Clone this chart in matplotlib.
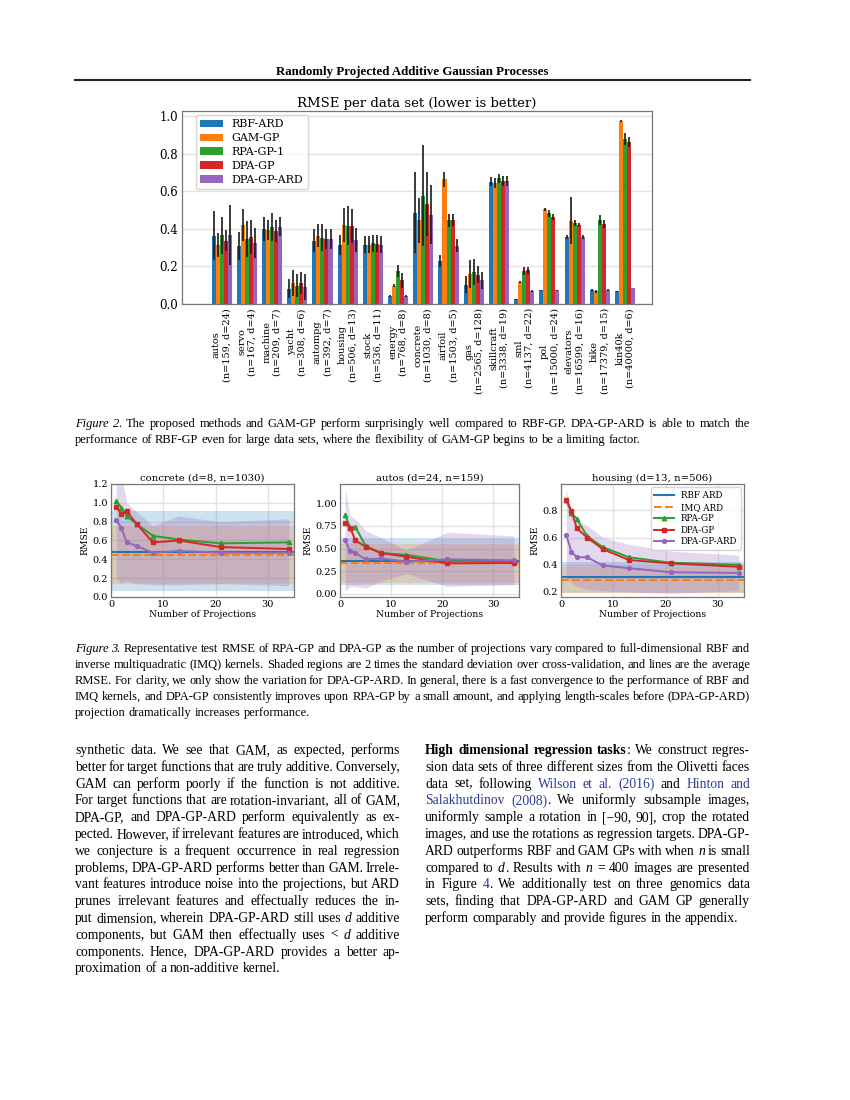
import matplotlib
matplotlib.use('Agg')
import matplotlib.pyplot as plt
import numpy as np

W, H, DPI = 850, 1100, 100

# ---------------- Figure 2 data ----------------
datasets = ['autos', 'servo', 'machine', 'yacht', 'autompg', 'housing', 'stock', 'energy',
            'concrete', 'airfoil', 'gas', 'skillcraft', 'sml', 'pol', 'elevators', 'bike', 'kin40k']
n_obs = [159, 167, 209, 308, 392, 506, 536, 768, 1030, 1503, 2565, 3338, 4137, 15000, 16599, 17379, 40000]
n_dim = [24, 4, 7, 6, 7, 13, 11, 8, 8, 5, 128, 19, 22, 24, 16, 15, 6]
methods = ['RBF-ARD', 'GAM-GP', 'RPA-GP-1', 'DPA-GP', 'DPA-GP-ARD']

rbf_mean = [0.362, 0.309, 0.399, 0.081, 0.337, 0.313, 0.315, 0.043, 0.485, 0.228, 0.102, 0.650, 0.025, 0.072, 0.358, 0.074, 0.067]
rbf_err = [0.13, 0.075, 0.065, 0.05, 0.06, 0.055, 0.045, 0.005, 0.215, 0.03, 0.045, 0.025, 0.003, 0.003, 0.01, 0.005, 0.003]
gam_mean = [0.313, 0.418, 0.394, 0.112, 0.364, 0.420, 0.316, 0.098, 0.446, 0.664, 0.158, 0.643, 0.116, 0.503, 0.443, 0.067, 0.972]
gam_err = [0.062, 0.085, 0.055, 0.068, 0.06, 0.09, 0.045, 0.01, 0.12, 0.04, 0.075, 0.025, 0.005, 0.008, 0.125, 0.008, 0.005]
rpa_mean = [0.366, 0.344, 0.411, 0.098, 0.353, 0.416, 0.322, 0.176, 0.576, 0.446, 0.169, 0.668, 0.176, 0.482, 0.432, 0.446, 0.877]
rpa_err = [0.098, 0.095, 0.075, 0.06, 0.07, 0.105, 0.045, 0.03, 0.27, 0.035, 0.07, 0.025, 0.02, 0.02, 0.015, 0.025, 0.03]
dpa_mean = [0.336, 0.355, 0.388, 0.112, 0.346, 0.415, 0.320, 0.127, 0.534, 0.446, 0.155, 0.654, 0.179, 0.464, 0.422, 0.425, 0.861]
dpa_err = [0.056, 0.09, 0.06, 0.06, 0.055, 0.09, 0.045, 0.04, 0.17, 0.03, 0.045, 0.025, 0.02, 0.015, 0.01, 0.02, 0.025]
ard_mean = [0.368, 0.325, 0.410, 0.091, 0.346, 0.341, 0.316, 0.043, 0.475, 0.309, 0.127, 0.654, 0.070, 0.072, 0.358, 0.074, 0.084]
ard_err = [0.16, 0.08, 0.05, 0.07, 0.055, 0.065, 0.045, 0.005, 0.155, 0.035, 0.045, 0.025, 0.005, 0.004, 0.01, 0.005, 0.0]

# ---------------- Figure 3 data ----------------
projections = [1, 2, 3, 5, 8, 13, 21, 34]
line_labels = ['RBF ARD', 'IMQ ARD', 'RPA-GP', 'DPA-GP', 'DPA-GP-ARD']

panel_titles = ['concrete (d=8, n=1030)', 'autos (d=24, n=159)', 'housing (d=13, n=506)']

concrete_rbf, concrete_rbf_lo, concrete_rbf_hi = 0.48, 0.06, 0.91
concrete_imq, concrete_imq_lo, concrete_imq_hi = 0.445, 0.14, 0.75
concrete_rpa = [1.02, 0.95, 0.86, 0.77, 0.65, 0.61, 0.57, 0.58]
concrete_dpa = [0.96, 0.88, 0.91, 0.77, 0.58, 0.60, 0.53, 0.51]
concrete_ard = [0.82, 0.73, 0.58, 0.54, 0.47, 0.49, 0.47, 0.47]
concrete_ard_lo = [0.20, 0.15, 0.17, 0.14, 0.13, 0.13, 0.14, 0.12]
concrete_ard_hi = [1.45, 1.30, 1.00, 0.90, 0.76, 0.86, 0.80, 0.83]

autos_rbf, autos_rbf_lo, autos_rbf_hi = 0.36, 0.10, 0.62
autos_imq, autos_imq_lo, autos_imq_hi = 0.335, 0.12, 0.55
autos_rpa = [0.87, 0.73, 0.74, 0.53, 0.45, 0.43, 0.36, 0.355]
autos_dpa = [0.78, 0.73, 0.59, 0.52, 0.45, 0.41, 0.335, 0.34]
autos_ard = [0.59, 0.47, 0.455, 0.38, 0.39, 0.355, 0.38, 0.37]
autos_ard_lo = [0.03, 0.08, 0.08, 0.06, 0.14, 0.22, 0.08, 0.10]
autos_ard_hi = [1.16, 0.86, 0.83, 0.70, 0.62, 0.48, 0.68, 0.64]

housing_rbf, housing_rbf_lo, housing_rbf_hi = 0.31, 0.20, 0.42
housing_imq, housing_imq_lo, housing_imq_hi = 0.285, 0.19, 0.38
housing_rpa = [0.88, 0.78, 0.74, 0.61, 0.53, 0.455, 0.415, 0.40]
housing_dpa = [0.88, 0.795, 0.67, 0.60, 0.515, 0.435, 0.41, 0.385]
housing_ard = [0.62, 0.495, 0.455, 0.455, 0.395, 0.375, 0.345, 0.34]
housing_ard_lo = [0.29, 0.27, 0.24, 0.22, 0.21, 0.20, 0.19, 0.21]
housing_ard_hi = [0.95, 0.78, 0.72, 0.69, 0.60, 0.55, 0.50, 0.47]

# ---------------- Text ----------------
header = 'Randomly Projected Additive Gaussian Processes'
caption2 = [
    '~Figure 2.~ The proposed methods and GAM-GP perform surprisingly well compared to RBF-GP. DPA-GP-ARD is able to match the',
    'performance of RBF-GP even for large data sets, where the flexibility of GAM-GP begins to be a limiting factor.',
]
caption3 = [
    '~Figure 3.~ Representative test RMSE of RPA-GP and DPA-GP as the number of projections vary compared to full-dimensional RBF and',
    'inverse multiquadratic (IMQ) kernels. Shaded regions are 2 times the standard deviation over cross-validation, and lines are the average',
    'RMSE. For clarity, we only show the variation for DPA-GP-ARD. In general, there is a fast convergence to the performance of RBF and',
    'IMQ kernels, and DPA-GP consistently improves upon RPA-GP by a small amount, and applying length-scales before (DPA-GP-ARD)',
    'projection dramatically increases performance.',
]
left_col = [
    'synthetic data. We see that GAM, as expected, performs',
    'better for target functions that are truly additive. Conversely,',
    'GAM can perform poorly if the function is not additive.',
    'For target functions that are rotation-invariant, all of GAM,',
    'DPA-GP, and DPA-GP-ARD perform equivalently as ex-',
    'pected. However, if irrelevant features are introduced, which',
    'we conjecture is a frequent occurrence in real regression',
    'problems, DPA-GP-ARD performs better than GAM. Irrele-',
    'vant features introduce noise into the projections, but ARD',
    'prunes irrelevant features and effectually reduces the in-',
    'put dimension, wherein DPA-GP-ARD still uses ~d~ additive',
    'components, but GAM then effectually uses < ~d~ additive',
    'components. Hence, DPA-GP-ARD provides a better ap-',
    'proximation of a non-additive kernel.',
]
right_col = [
    '^High dimensional regression tasks^: We construct regres-',
    'sion data sets of three different sizes from the Olivetti faces',
    'data set, following `Wilson et al. (2016)` and `Hinton and`',
    '`Salakhutdinov (2008)`. We uniformly subsample images,',
    'uniformly sample a rotation in [\u221290, 90], crop the rotated',
    'images, and use the rotations as regression targets. DPA-GP-',
    'ARD outperforms RBF and GAM GPs with when ~n~ is small',
    'compared to ~d~. Results with ~n~ = 400 images are presented',
    'in Figure `4`. We additionally test on three genomics data',
    'sets, finding that DPA-GP-ARD and GAM GP generally',
    'perform comparably and provide figures in the appendix.',
]

# ---------------- Setup ----------------
plt.rcParams['font.family'] = ['DejaVu Serif']
colors = ['#1f77b4', '#ff7f0e', '#2ca02c', '#d62728', '#9467bd']
LINK = '#2b3c98'
SERIF = 'Liberation Serif'

fig = plt.figure(figsize=(W / DPI, H / DPI), dpi=DPI)
fig.patch.set_facecolor('white')


def ax_px(l, t, r, b):
    return fig.add_axes([l / W, 1 - b / H, (r - l) / W, (b - t) / H])


def style_axes(ax, grid_axis='both'):
    for s in ax.spines.values():
        s.set_color('#777777')
        s.set_linewidth(0.9)
    ax.set_axisbelow(True)
    ax.grid(True, axis=grid_axis, color='#e3e3e3', lw=1.0)
    ax.tick_params(length=0, pad=3)


# ---------------- Bar chart ----------------
BL, BT, BR, BB = 182, 111, 652, 304
ax = ax_px(BL, BT, BR, BB)
x = np.arange(len(datasets))
bw = 0.16
means = [rbf_mean, gam_mean, rpa_mean, dpa_mean, ard_mean]
errs = [rbf_err, gam_err, rpa_err, dpa_err, ard_err]
for i in range(5):
    ax.bar(x + (i - 2) * bw, means[i], bw, yerr=errs[i], color=colors[i], label=methods[i],
           error_kw=dict(ecolor='#1a1a1a', elinewidth=1.2, capsize=0))
ax.set_xlim(-1.57, len(datasets) - 1 + 1.07)
ax.set_ylim(0, 1.026)
ax.set_yticks([0.0, 0.2, 0.4, 0.6, 0.8, 1.0])
ax.set_yticklabels(['%.1f' % v for v in [0.0, 0.2, 0.4, 0.6, 0.8, 1.0]], fontsize=8.5)
ax.set_xticks(x)
ax.set_xticklabels(['%s\n(n=%d, d=%d)' % (d, n, k) for d, n, k in zip(datasets, n_obs, n_dim)],
                   rotation=90, fontsize=7)
style_axes(ax, 'y')
ax.set_title('RMSE per data set (lower is better)', fontsize=9.5, pad=3)
ax.legend(loc='upper left', bbox_to_anchor=((196 - BL) / (BR - BL), 1 - 4 / (BB - BT)),
          borderaxespad=0, fontsize=8, frameon=True, edgecolor='#cccccc', fancybox=True,
          handlelength=2.0, labelspacing=0.35)

# ---------------- Line panels ----------------
panels = [
    (concrete_rbf, concrete_rbf_lo, concrete_rbf_hi, concrete_imq, concrete_imq_lo, concrete_imq_hi,
     concrete_rpa, concrete_dpa, concrete_ard, concrete_ard_lo, concrete_ard_hi),
    (autos_rbf, autos_rbf_lo, autos_rbf_hi, autos_imq, autos_imq_lo, autos_imq_hi,
     autos_rpa, autos_dpa, autos_ard, autos_ard_lo, autos_ard_hi),
    (housing_rbf, housing_rbf_lo, housing_rbf_hi, housing_imq, housing_imq_lo, housing_imq_hi,
     housing_rpa, housing_dpa, housing_ard, housing_ard_lo, housing_ard_hi),
]
boxes = [(111, 484, 294, 597), (340, 484, 519, 597), (561, 484, 744, 597)]
ylims = [(0.0, 1.2), (-0.037, 1.215), (0.163, 0.994)]
yticks = [[0.0, 0.2, 0.4, 0.6, 0.8, 1.0, 1.2], [0.0, 0.25, 0.5, 0.75, 1.0], [0.2, 0.4, 0.6, 0.8]]
yfmt = ['%.1f', '%.2f', '%.1f']
for k, (p, box) in enumerate(zip(panels, boxes)):
    rbf, rlo, rhi, imq, ilo, ihi, rpa, dpa, ard, alo, ahi = p
    a = ax_px(*box)
    a.axhspan(rlo, rhi, color=colors[0], alpha=0.22, lw=0)
    a.axhspan(ilo, ihi, color=colors[1], alpha=0.22, lw=0)
    a.fill_between(projections, alo, ahi, color=colors[4], alpha=0.25, lw=0)
    a.axhline(rbf, color=colors[0], lw=1.5, label=line_labels[0])
    a.axhline(imq, color=colors[1], lw=1.5, ls='--', label=line_labels[1])
    a.plot(projections, rpa, color=colors[2], lw=1.4, marker='^', ms=3.2, label=line_labels[2])
    a.plot(projections, dpa, color=colors[3], lw=1.4, marker='s', ms=3.0, label=line_labels[3])
    a.plot(projections, ard, color=colors[4], lw=1.4, marker='o', ms=2.8, label=line_labels[4])
    a.set_xlim(0, 35)
    a.set_ylim(*ylims[k])
    a.set_xticks([0, 10, 20, 30])
    a.set_xticklabels(['0', '10', '20', '30'], fontsize=7)
    a.set_yticks(yticks[k])
    a.set_yticklabels([yfmt[k] % v for v in yticks[k]], fontsize=7)
    style_axes(a, 'both')
    a.tick_params(pad=2)
    a.set_title(panel_titles[k], fontsize=7.3, pad=2.5)
    a.set_xlabel('Number of Projections', fontsize=6.7, labelpad=1)
    a.set_ylabel('RMSE', fontsize=6.7, labelpad=2)
    if k == 2:
        a.legend(loc='upper right', fontsize=6.3, frameon=True, edgecolor='#cccccc',
                 handlelength=2.2, labelspacing=0.3, borderaxespad=0.4)

# ---------------- Page text ----------------
renderer = fig.canvas.get_renderer()


def parse(line):
    words, cur, seg = [], [], ['']
    st = {'i': False, 'b': False, 'l': False}

    def flush():
        if seg[0]:
            cur.append((seg[0], dict(st)))
            seg[0] = ''
    for ch in line:
        if ch == '~':
            flush(); st['i'] = not st['i']
        elif ch == '^':
            flush(); st['b'] = not st['b']
        elif ch == '`':
            flush(); st['l'] = not st['l']
        elif ch == ' ':
            flush()
            if cur:
                words.append(list(cur)); cur.clear()
        else:
            seg[0] += ch
    flush()
    if cur:
        words.append(list(cur))
    return words


def props(st, fs):
    return dict(family=SERIF, fontsize=fs, style='italic' if st['i'] else 'normal',
                weight='bold' if st['b'] else 'normal', color=LINK if st['l'] else 'black')


def seg_width(s, st, fs):
    t = fig.text(0, 0, s, **props(st, fs))
    w = t.get_window_extent(renderer).width
    t.remove()
    return w


def draw_line(line, x0, x1, yb, fs, justify):
    words = parse(line)
    widths = [[seg_width(s, st, fs) for s, st in w] for w in words]
    tot = sum(sum(ws) for ws in widths)
    sp = fs * DPI / 72 * 0.25
    if justify and len(words) > 1:
        sp = (x1 - x0 - tot) / (len(words) - 1)
    xx = x0
    for w, ws in zip(words, widths):
        for (s, st), wd in zip(w, ws):
            fig.text(xx / W, 1 - yb / H, s, va='baseline', ha='left', **props(st, fs))
            xx += wd
        xx += sp


def draw_par(lines, x0, x1, y0, dy, fs):
    for i, ln in enumerate(lines):
        draw_line(ln, x0, x1, y0 + i * dy, fs, i < len(lines) - 1)


TL, TR = 75, 750
COLW = 325
fig.text(((TL + TR) / 2) / W, 1 - 75 / H, header, ha='center', va='baseline',
         family=SERIF, weight='bold', fontsize=9.3)
fig.add_artist(plt.Line2D([TL / W, TR / W], [1 - 80 / H, 1 - 80 / H], color='#222222', lw=1.5))

draw_par(caption2, TL, TR, 427, 16, 9)
draw_par(caption3, TL, TR, 652, 16, 9)
draw_par(left_col, TL, TL + COLW, 754, 16.8, 9.8)
draw_par(right_col, TR - COLW, TR, 754, 16.8, 9.8)

fig.savefig('out.png', dpi=DPI, facecolor='white')
